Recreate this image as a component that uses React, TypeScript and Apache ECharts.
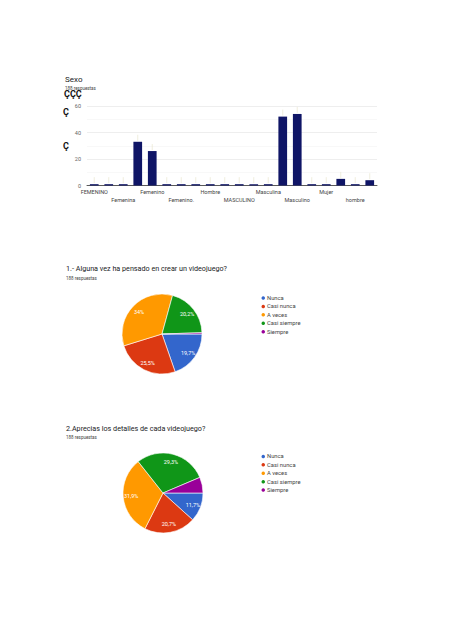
import React, { useEffect, useRef } from "react";
import * as echarts from "echarts";

const sexCategories = [
  "FEMENINO", "Fem", "Femenina", "Femenina ", "Femenino", "Femenino ", "Femenino.", "H",
  "Hombre", "Hombre ", "MASCULINO", "Masc", "Masculina", "Masculino ", "Masculino",
  "Masculino.", "Mujer", "hom", "hombre", "masculino",
];
const sexValues = [1, 1, 1, 33, 26, 1, 1, 1, 1, 1, 1, 1, 1, 52, 54, 1, 1, 5, 1, 4];
const yTicks = [0, 20, 40, 60];

const answerNames = ["Nunca", "Casi nunca", "A veces", "Casi siempre", "Siempre"];
const answerColors = ["#3366cc", "#dc3912", "#ff9900", "#109618", "#990099"];
const q1Values = [37, 48, 64, 38, 1];
const q2Values = [22, 39, 60, 55, 12];

const title1 = "Sexo";
const title2 = "1.- Alguna vez ha pensado en crear un videojuego?";
const title3 = "2.Aprecias los detalles de cada videojuego?";
const responses = "188 respuestas";

const FONT = "Roboto, Arial, sans-serif";

function pieData(values: number[]) {
  return answerNames.map((n, i) => ({ name: n, value: values[i], itemStyle: { color: answerColors[i] } }));
}

function fmtPct(p: any) {
  if (p.percent < 8) return "";
  const v = Number(p.percent.toFixed(1));
  return String(v).replace(".", ",") + "%";
}

function pieSeries(values: number[], cx: number, cy: number) {
  return [
    {
      type: "pie",
      center: [cx, cy],
      radius: [0, 40],
      startAngle: 0,
      clockwise: true,
      silent: true,
      data: pieData(values),
      label: { show: false },
      labelLine: { show: false },
      itemStyle: { borderColor: "#ffffff", borderWidth: 0.6 },
    },
    {
      type: "pie",
      center: [cx, cy],
      radius: [18, 40],
      startAngle: 0,
      clockwise: true,
      silent: true,
      data: answerNames.map((n, i) => ({ name: n + " ", value: values[i] })),
      itemStyle: { color: "rgba(0,0,0,0)", borderWidth: 0 },
      label: {
        show: true,
        position: "inside",
        color: "#ffffff",
        fontSize: 5.5,
        fontFamily: FONT,
        formatter: fmtPct,
      },
      labelLine: { show: false },
    },
  ];
}

function legendFor(top: number) {
  return {
    orient: "vertical",
    left: 259.5,
    top,
    icon: "circle",
    itemWidth: 5.5,
    itemHeight: 5.5,
    itemGap: 0.9,
    selectedMode: false,
    data: answerNames,
    textStyle: { fontSize: 5.8, lineHeight: 6, height: 6, color: "#444444", fontFamily: FONT, padding: [0, 0, 0, -4] },
    padding: 0,
  };
}

export default function App() {
  const ref = useRef<HTMLDivElement>(null);
  useEffect(() => {
    if (!ref.current) return;
    const chart = echarts.init(ref.current, undefined, { renderer: "svg" });
    const txt = (x: number, y: number, text: string, size: number, color: string, weight: any = "normal") => ({
      type: "text",
      x,
      y,
      style: { text, fontSize: size, fill: color, fontFamily: FONT, fontWeight: weight, textVerticalAlign: "middle" },
    });
    chart.setOption({
      animation: false,
      backgroundColor: "#ffffff",
      textStyle: { fontFamily: FONT },
      grid: { left: 87, top: 106, width: 290, height: 79.5, containLabel: false },
      xAxis: {
        type: "category",
        data: sexCategories,
        axisLine: { show: true, lineStyle: { color: "#333333", width: 0.8 } },
        axisTick: { show: false },
        axisLabel: {
          interval: 1,
          fontSize: 5.5,
          lineHeight: 8,
          margin: 2,
          color: "#444444",
          fontFamily: FONT,
          formatter: (v: string, i: number) => (i % 4 === 2 ? "\n" + v : v),
        },
      },
      yAxis: {
        type: "value",
        min: 0,
        max: 60,
        interval: 20,
        axisLine: { show: false },
        axisTick: { show: false },
        axisLabel: {
          fontSize: 5.5,
          color: "#666666",
          margin: 6,
          fontFamily: FONT,
          formatter: (v: number) => (yTicks.includes(v) ? String(v) : ""),
        },
        splitLine: { lineStyle: { color: "#e3e3e3", width: 0.6 } },
        minorTick: { show: false, splitNumber: 2 },
        minorSplitLine: { show: true, lineStyle: { color: "#f3f3f3", width: 0.6 } },
      },
      legend: [legendFor(294.3), legendFor(452.7)],
      series: [
        {
          type: "bar",
          data: sexValues,
          barCategoryGap: "40%",
          itemStyle: { color: "#0f1566" },
          silent: true,
        },
        {
          type: "custom",
          silent: true,
          data: sexValues.map((v, i) => [i, v]),
          renderItem: (_p: any, api: any) => {
            const pt = api.coord([api.value(0), api.value(1)]);
            return {
              type: "line",
              shape: { x1: pt[0], y1: pt[1] - 1, x2: pt[0], y2: pt[1] - 7 },
              style: { stroke: "#e6e2c8", lineWidth: 0.6 },
            };
          },
        },
        ...pieSeries(q1Values, 162, 334),
        ...pieSeries(q2Values, 163, 493),
      ],
      graphic: [
        txt(65, 79.5, title1, 8, "#202124"),
        txt(64, 94, "ÇÇÇ", 9, "#111111", "bold"),
        txt(65, 88, responses, 4.5, "#444444"),
        txt(63, 111.5, "Ç", 9, "#111111", "bold"),
        txt(63, 145.5, "Ç", 9, "#111111", "bold"),
        txt(66, 268.5, title2, 7.2, "#202124"),
        txt(66, 278, responses, 4.5, "#444444"),
        txt(66, 428, title3, 7.2, "#202124"),
        txt(66, 437.5, responses, 4.5, "#444444"),
      ],
    } as any);
    return () => chart.dispose();
  }, []);
  return (
    <div
      ref={ref}
      style={{ position: "absolute", left: 0, top: 0, width: 453, height: 640, background: "#ffffff" }}
    />
  );
}
